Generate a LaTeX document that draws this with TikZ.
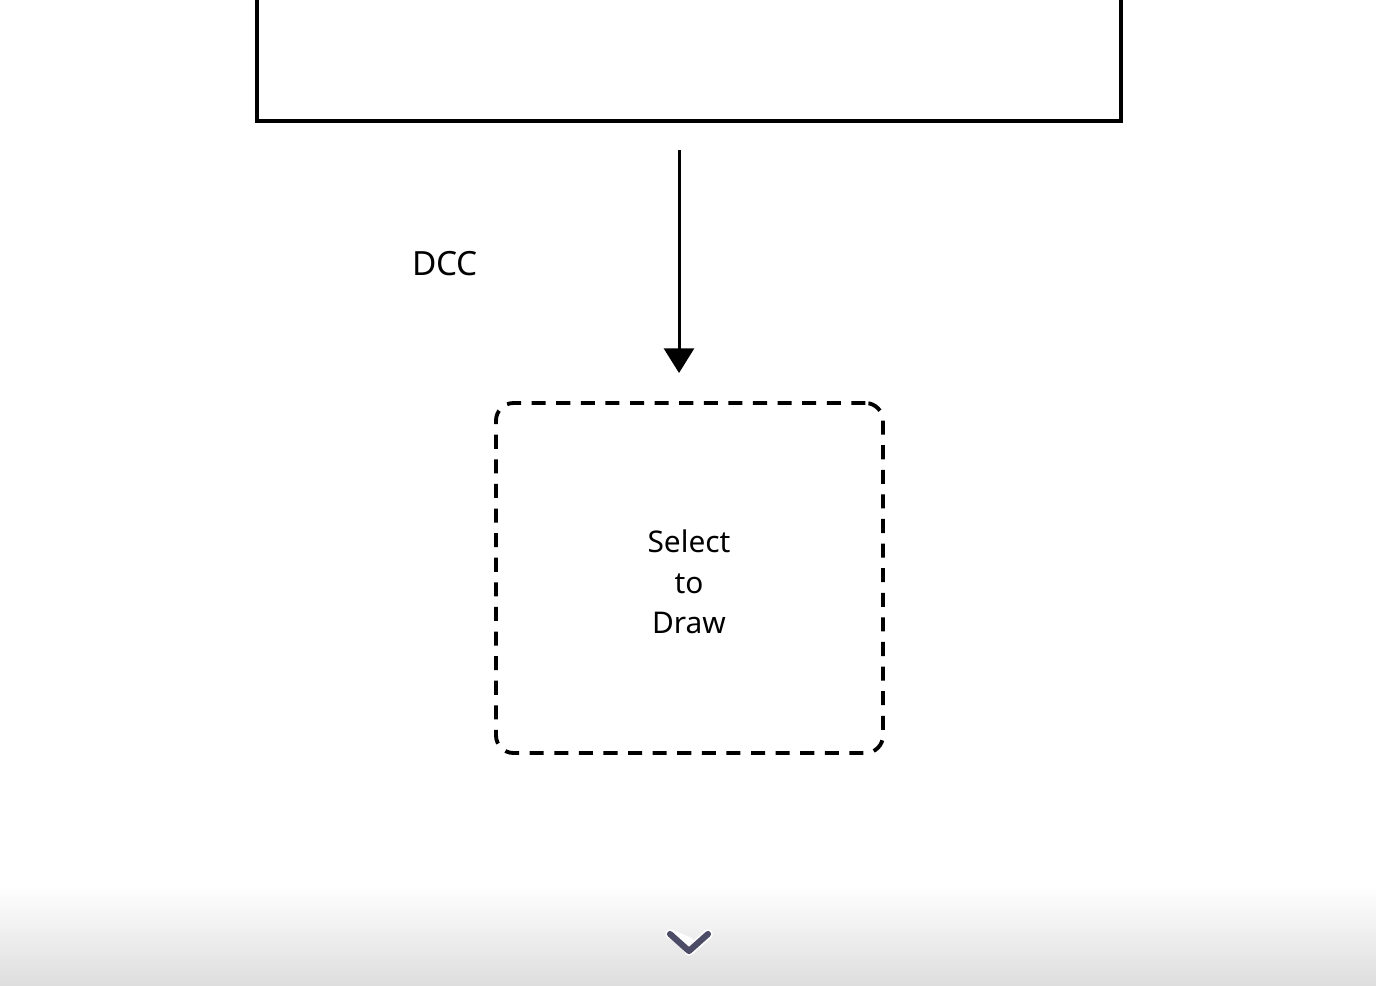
\documentclass[tikz,border=0pt]{standalone}
\usepackage{fontspec}
\setmainfont{Noto Sans}
\usetikzlibrary{arrows.meta}
\begin{document}
\begin{tikzpicture}[x=0.02cm,y=-0.02cm,
  lbl/.style={font=\fontsize{19}{24}\selectfont},
  inner/.style={font=\fontsize{17}{23}\selectfont,align=center}]
\useasboundingbox (0,0) rectangle (1376,985);
\shade[top color=white,bottom color=black!13] (0,885) rectangle (1376,985);
\draw[line width=2.8pt] (257,-20) -- (257,121) -- (1121,121) -- (1121,-20);
\node[draw,dashed,line width=2.2pt,dash pattern=on 8pt off 6pt,rounded corners=10pt,minimum width=387*0.02cm,minimum height=350*0.02cm] (box) at (689.5,578) {};
\node[inner] (t) at (689,582) {Select\\to\\Draw};
\node[lbl] (dcc) at (445,264) {DCC};
\coordinate (a1) at (679,150);
\coordinate (a2) at (679,373);
\draw[line width=1.7pt,-{Triangle[length=14pt,width=17pt]}] (a1) -- (a2);
\coordinate (c) at (689,942);
\draw[white,line width=5.5pt,line cap=round,line join=round] (670,934) -- (c) ++(0,9) -- (708,934);
\draw[black!75!blue!40!gray,line width=3.5pt,line cap=round,line join=round] (670,934) -- (689,951) -- (708,934);
\end{tikzpicture}
\end{document}
